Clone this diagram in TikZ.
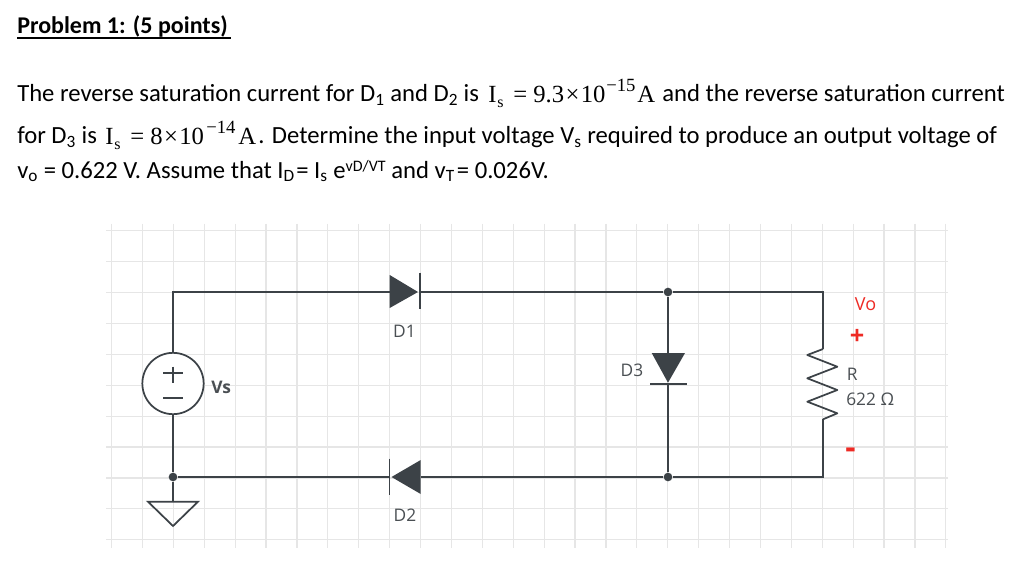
\documentclass[tikz,border=0pt]{standalone}
\usepackage{fontspec}
\setmainfont{Carlito}
\newfontfamily\mathserif{Liberation Serif}
\newfontfamily\schemfont{Open Sans}
\usetikzlibrary{calc,positioning}
\definecolor{wirecol}{HTML}{3C4247}
\definecolor{gridcol}{HTML}{E6E6E6}
\definecolor{labelcol}{HTML}{4A4F53}
\definecolor{voltcol}{HTML}{EE2A24}
\tikzset{
  txt/.style={anchor=base west,inner sep=0pt,font=\fontsize{18.5}{18.5}\selectfont},
  ser/.style={anchor=base west,inner sep=0pt,font=\mathserif\fontsize{18.5}{18.5}\selectfont},
  sub/.style={anchor=base west,inner sep=0pt,font=\mathserif\fontsize{12}{12}\selectfont},
  lab/.style={inner sep=0pt,text=labelcol,font=\schemfont\fontsize{13}{13}\selectfont},
  volt/.style={inner sep=0pt,text=voltcol,font=\schemfont\bfseries\fontsize{12}{12}\selectfont},
  wire/.style={draw=wirecol,line width=2pt},
  junction/.style={circle,fill=wirecol,inner sep=0pt,minimum size=6.5pt},
}
\begin{document}
\begin{tikzpicture}[x=0.75pt,y=-0.75pt]
	\useasboundingbox[fill=white] (0,0) rectangle (1023,577);

	% Text
	\node[txt,font=\bfseries\fontsize{18}{18}\selectfont] (title) at (17,34) {Problem 1: (5 points)};
	\draw[line width=1.5pt] (17,38) -- (231,38);

	\node[txt] (textA) at (17,102) {The reverse saturation current for D\textsubscript{1} and D\textsubscript{2} is};
	\node[ser] (isA) at (488,103) {I};
	\node[sub] (isAsub) at (497,108) {s};
	\node[ser] (valA) at (513,103) {= 9.3\kern1pt×\kern1pt10};
	\node[sub,font=\mathserif\fontsize{14}{14}\selectfont] (expA) at (606,92) {−15};
	\node[ser] (ampA) at (637,103) {A};
	\node[txt] (textB) at (662,102) {and the reverse saturation current};

	\node[txt] (textC) at (17,144) {for D\textsubscript{3} is};
	\node[ser] (isB) at (105,145) {I};
	\node[sub] (isBsub) at (114,150) {s};
	\node[ser] (valB) at (130,145) {= 8\kern1pt×\kern1pt10};
	\node[sub,font=\mathserif\fontsize{14}{14}\selectfont] (expB) at (206,134) {−14};
	\node[ser] (ampB) at (238,145) {A};
	\node[txt] (textD) at (258,144) {. Determine the input voltage V\textsubscript{s} required to produce an output voltage of};

	\node[txt] (textE) at (17,178.5) {v\textsubscript{o} = 0.622 V. Assume that I\textsubscript{D}\kern1pt= I\textsubscript{s} e\raisebox{5.5pt}{\fontsize{12}{12}\selectfont vD/VT} and v\textsubscript{T}\kern1.5pt= 0.026V.};

	% Grid
	\foreach \gx in {111.5,142.4,...,950} {
		\draw[gridcol,line width=0.9pt] (\gx,224) -- (\gx,548);
	}
	\foreach \gy in {230.7,261.6,...,545} {
		\draw[gridcol,line width=0.9pt] (106,\gy) -- (948,\gy);
	}

	% Corners and junctions
	\coordinate (topleft) at (173,292);
	\coordinate (topright) at (823,292);
	\coordinate (botright) at (823,477);
	\node[junction] (topnode) at (668,292) {};
	\node[junction] (botnode) at (668,477) {};
	\node[junction] (gndnode) at (173,477) {};

	% Source
	\node[circle,draw=wirecol,line width=1.3pt,fill=white,inner sep=0pt,minimum size=46pt] (source) at (173,383.5) {};
	\draw[wirecol,line width=1.1pt] (163,373) -- (183,373) (173,366.5) -- (173,383) (163,398) -- (183,398);
	\node[lab,font=\schemfont\bfseries\fontsize{13}{13}\selectfont,anchor=west] (vslabel) at (211,387) {Vs};

	% Diodes
	\coordinate (dA) at (389.7,292);
	\coordinate (dAk) at (420,292);
	\fill[wirecol] (389.7,275) -- (418,292) -- (389.7,308) -- cycle;
	\draw[wirecol,line width=1.1pt] (420,272.7) -- (420,309);
	\node[lab] (dAlabel) at (404.5,331) {D1};

	\coordinate (dB) at (420.7,477);
	\coordinate (dBk) at (389.3,477);
	\fill[wirecol] (420.7,460) -- (391.5,477) -- (420.7,494) -- cycle;
	\draw[wirecol,line width=1.1pt] (389.3,458.7) -- (389.3,495);
	\node[lab] (dBlabel) at (405,515) {D2};

	\coordinate (dC) at (668,353);
	\coordinate (dCk) at (668,384);
	\fill[wirecol] (651.7,353) -- (668,382.7) -- (685,353) -- cycle;
	\draw[wirecol,line width=1.1pt] (650,384) -- (686.7,384);
	\node[lab] (dClabel) at (632,370) {D3};

	% Ground
	\coordinate (gndtop) at (173,501.7);
	\draw[wirecol,line width=1.3pt] (148,501.7) -- (198,501.7) -- (173,526) -- cycle;

	% Resistor
	\coordinate (resA) at (823,349);
	\coordinate (resB) at (823,419.3);
	\draw[wirecol,line width=1.3pt,line join=round] (resA) -- (807.3,355) -- (837.3,366.7) -- (807.3,378.3) -- (837.3,390) -- (807.3,401.7) -- (837.3,413.3) -- (resB);
	\node[lab,anchor=west] (rlabel) at (846.5,374.5) {R};
	\node[lab,anchor=west] (rvalue) at (846,399) {622 Ω};

	% Wires
	\draw[wire,line join=miter] (source) -- (topleft) -- (dA);
	\draw[wire] (dAk) -- (topnode);
	\draw[wire,line join=miter] (topnode) -- (topright) -- (resA);
	\draw[wire,line join=miter] (resB) -- (botright) -- (botnode);
	\draw[wire] (botnode) -- (dB);
	\draw[wire] (dBk) -- (gndnode);
	\draw[wire] (source) -- (gndnode);
	\draw[wire] (gndnode) -- (gndtop);
	\draw[wire] (topnode) -- (dC);
	\draw[wire] (dCk) -- (botnode);

	% Output voltage
	\node[lab,text=voltcol,font=\schemfont\fontsize{13.5}{13.5}\selectfont] (volabel) at (865.5,304) {Vo};
	\node[volt,font=\schemfont\bfseries\fontsize{19}{19}\selectfont] (voplus) at (857,337) {+};
	\node[volt,font=\schemfont\bfseries\fontsize{24}{24}\selectfont] (vominus) at (850.5,453) {-};
\end{tikzpicture}
\end{document}
